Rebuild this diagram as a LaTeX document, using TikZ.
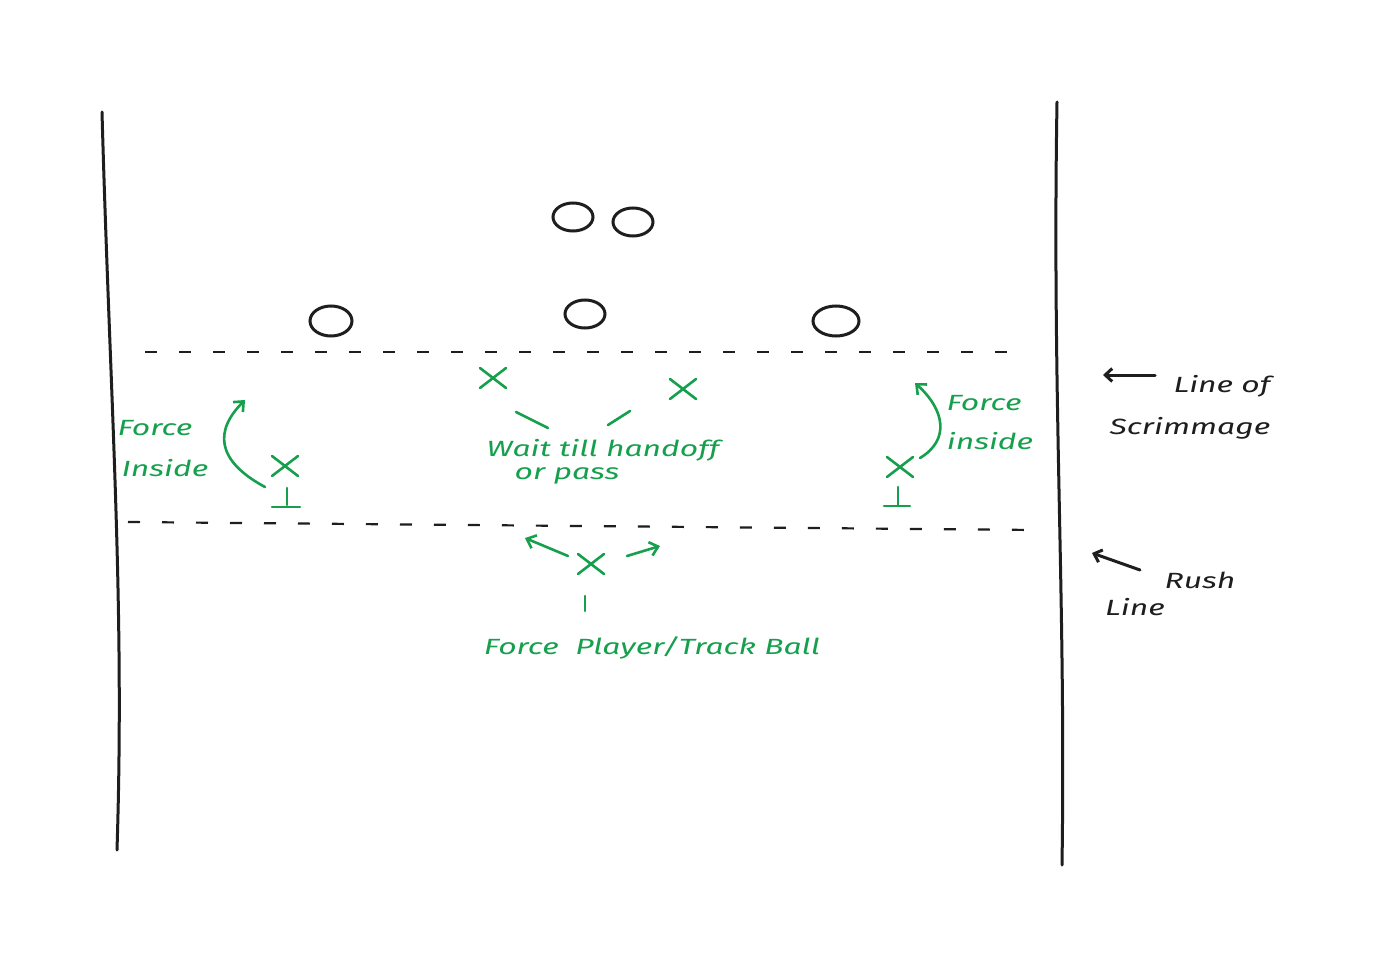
\documentclass[tikz,border=0pt]{standalone}
\usepackage{fontspec}
\setmainfont{Fira Sans}
\usetikzlibrary{arrows.meta}
\definecolor{grn}{HTML}{16A04E}
\definecolor{ink}{HTML}{1E1E1E}
\tikzset{
  bl/.style={draw=ink,line width=3pt,line cap=round},
  gr/.style={draw=grn,line width=2.6pt,line cap=round},
  dashline/.style={draw=ink,line width=2.2pt,dash pattern=on 12pt off 22pt},
  gtxt/.style={text=grn,xscale=1.45,font=\fontsize{22}{24}\selectfont\itshape},
  btxt/.style={text=ink,xscale=1.45,font=\fontsize{22}{24}\selectfont\itshape},
  xm/.style={gr},
}
\newcommand{\xmark}[2]{\draw[xm] (#1-13,#2-10) -- (#1+13,#2+10) (#1-13,#2+10) -- (#1+13,#2-10);}
\begin{document}
\begin{tikzpicture}[x=1pt,y=-1pt]
\useasboundingbox[fill=white] (0,0) rectangle (1376,971);
\coordinate (L1) at (102,112); \coordinate (L2) at (117,850);
\coordinate (R1) at (1057,102); \coordinate (R2) at (1062,865);
\draw[bl] (L1) .. controls (110,400) and (125,600) .. (L2);
\draw[bl] (R1) .. controls (1052,400) and (1066,600) .. (R2);
\foreach \x/\y/\a/\b in {573/217/20/14,633/222/20/14,331/321/21/15,585/314/20/14,836/321/23/15}
  \draw[bl] (\x,\y) ellipse [x radius=\a, y radius=\b];
\coordinate (S1) at (145,352); \coordinate (S2) at (1020,352);
\coordinate (U1) at (128,522); \coordinate (U2) at (1035,530);
\draw[dashline] (S1) -- (S2);
\draw[dashline] (U1) -- (U2);
\xmark{493}{378}\xmark{683}{389}\xmark{285}{466}\xmark{900}{467}\xmark{591}{564}
\draw[gr] (516,412) -- (548,428);
\draw[gr] (608,425) -- (630,411);
\draw[gr] (287,488) -- (287,505) (272,507) -- (300,507);
\draw[gr] (898,487) -- (898,505) (884,506) -- (910,506);
\draw[gr] (585,596) -- (585,611);
\draw[gr,-{Straight Barb[length=8pt,width=14pt]}] (265,487) .. controls (215,460) and (215,430) .. (245,400);
\draw[gr,-{Straight Barb[length=8pt,width=14pt]}] (920,458) .. controls (950,440) and (945,410) .. (915,383);
\draw[gr,-{Straight Barb[length=8pt,width=14pt]}] (568,556) -- (525,538);
\draw[gr,-{Straight Barb[length=8pt,width=14pt]}] (627,556) -- (660,546);
\node[gtxt] (t1) at (155,428) {Force};
\node[gtxt] (t2) at (165,468) {Inside};
\node[gtxt] (t3) at (603,450) {Wait till handoff};
\node[gtxt] (t4) at (567,476) {or pass};
\node[gtxt] (t5) at (984,403) {Force};
\node[gtxt] (t6) at (990,441) {inside};
\node[gtxt] (t7) at (652,648) {Force\ \ Player/Track Ball};
\node[btxt] (b1) at (1222,386) {Line of};
\node[btxt] (b2) at (1190,428) {Scrimmage};
\node[btxt] (b3) at (1200,580) {Rush};
\node[btxt] (b4) at (1135,607) {Line};
\coordinate (a1) at (1155,375); \coordinate (a2) at (1103,375);
\coordinate (a3) at (1140,570); \coordinate (a4) at (1092,553);
\draw[bl,-{Straight Barb[length=7pt,width=13pt]}] (a1) -- (a2);
\draw[bl,-{Straight Barb[length=7pt,width=13pt]}] (a3) -- (a4);
\end{tikzpicture}
\end{document}
